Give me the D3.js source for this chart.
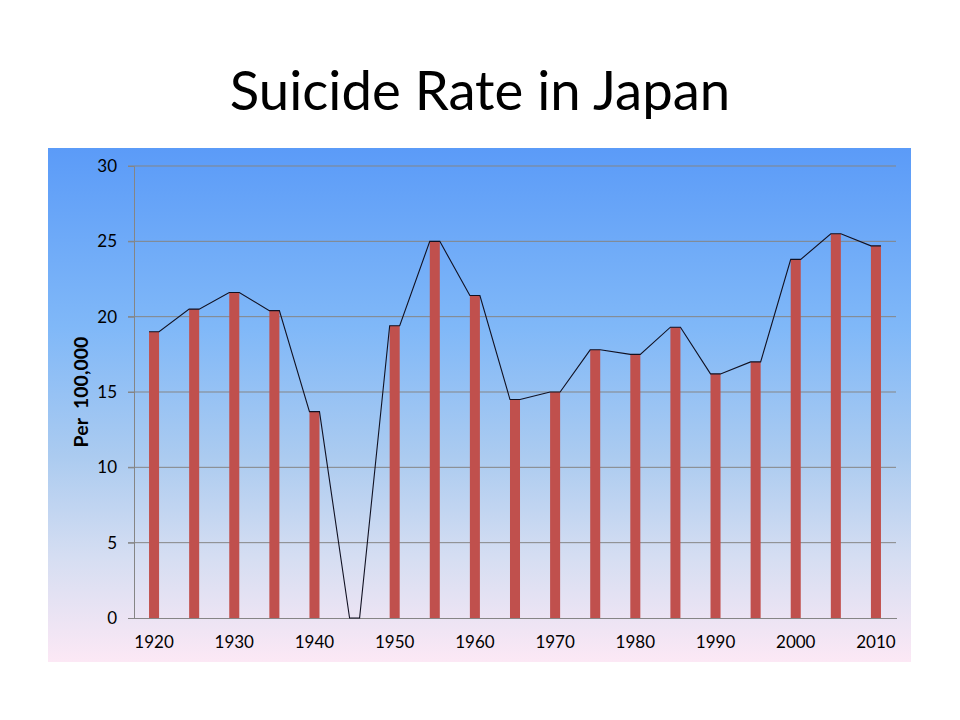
<!DOCTYPE html>
<html>
<head>
<meta charset="utf-8">
<script src="https://cdn.jsdelivr.net/npm/d3@7"></script>
<style>
  html, body { margin: 0; padding: 0; background: #ffffff; }
  svg { display: block; }
  text { font-family: Lato, "Open Sans", sans-serif; fill: #000; }
</style>
</head>
<body>
<svg id="chart" width="960" height="720"></svg>
<script>
// ---- data ----
const years = [1920, 1925, 1930, 1935, 1940, 1945, 1950, 1955, 1960, 1965,
               1970, 1975, 1980, 1985, 1990, 1995, 2000, 2005, 2010];
const rates = [19.0, 20.5, 21.6, 20.4, 13.7, 0, 19.4, 25.0, 21.4, 14.5,
               15.0, 17.8, 17.5, 19.3, 16.2, 17.0, 23.8, 25.5, 24.7];
const yTicks = [0, 5, 10, 15, 20, 25, 30];
const xLabelYears = [1920, 1930, 1940, 1950, 1960, 1970, 1980, 1990, 2000, 2010];
const titleText = "Suicide Rate in Japan";
const yAxisTitle = "Per\u00a0\u00a0100,000";

// ---- layout ----
const svg = d3.select("#chart");
const bg = { x: 48, y: 148, w: 863, h: 514 };
const plot = { left: 134, right: 896, top: 166, bottom: 618 };

const defs = svg.append("defs");
const grad = defs.append("linearGradient").attr("id", "bgGrad")
  .attr("x1", 0).attr("y1", 0).attr("x2", 0).attr("y2", 1);
[[0, "#5b9bf8"], [0.35, "#80b8f8"], [0.6, "#abcbf0"], [0.8, "#d6def2"], [1, "#fce8f5"]]
  .forEach(([o, c]) => grad.append("stop").attr("offset", o).attr("stop-color", c));

svg.append("rect").attr("x", bg.x).attr("y", bg.y).attr("width", bg.w).attr("height", bg.h)
  .attr("fill", "url(#bgGrad)");

// title
svg.append("text").attr("x", 480).attr("y", 110).attr("text-anchor", "middle")
  .style("font-size", "54.5px").text(titleText);

// scales
const y = d3.scaleLinear().domain([0, 30]).range([plot.bottom, plot.top]);
const x = d3.scaleBand().domain(years).range([plot.left, plot.right]).padding(0);
const bw = x.step() * 0.25;
const cx = d => x(d) + x.bandwidth() / 2;

// gridlines
svg.append("g").selectAll("line").data(yTicks.filter(t => t > 0)).join("line")
  .attr("x1", plot.left - 6).attr("x2", plot.right)
  .attr("y1", d => y(d)).attr("y2", d => y(d))
  .attr("stroke", "#858585").attr("stroke-width", 1);

// y axis
const yAxis = svg.append("g").attr("transform", `translate(${plot.left},0)`)
  .call(d3.axisLeft(y).tickValues(yTicks).tickSize(6).tickPadding(11).tickFormat(d3.format("d")));
yAxis.select(".domain").attr("stroke", "#858585");
yAxis.selectAll(".tick line").attr("stroke", "#858585");
yAxis.selectAll("text").style("font-size", "17px").style("font-family", "Lato, sans-serif").attr("fill", "#000");

// x axis
const xAxis = svg.append("g").attr("transform", `translate(0,${plot.bottom})`)
  .call(d3.axisBottom(x).tickValues(xLabelYears).tickSize(0).tickPadding(18).tickFormat(d3.format("d")));
xAxis.select(".domain").attr("stroke", "#858585").attr("d", `M${plot.left - 6},0.5H${plot.right + 1}`);
xAxis.selectAll("text").style("font-size", "17px").style("font-family", "Lato, sans-serif").attr("fill", "#000");

// bars
svg.append("g").selectAll("rect").data(years).join("rect")
  .attr("x", (d) => cx(d) - bw / 2)
  .attr("y", (d, i) => y(rates[i]))
  .attr("width", bw)
  .attr("height", (d, i) => y(0) - y(rates[i]))
  .attr("fill", "#c0504d");

// connecting line (joins bar top corners)
const pts = [];
years.forEach((yr, i) => {
  pts.push([cx(yr) - bw / 2, y(rates[i])]);
  pts.push([cx(yr) + bw / 2, y(rates[i])]);
});
svg.append("path").attr("d", d3.line()(pts))
  .attr("fill", "none").attr("stroke", "#111122").attr("stroke-width", 1.1);

// y axis title
svg.append("text")
  .attr("transform", `translate(87.5,392) rotate(-90)`)
  .attr("text-anchor", "middle")
  .style("font-size", "19.5px").style("font-weight", "bold")
  .text(yAxisTitle);
</script>
</body>
</html>
